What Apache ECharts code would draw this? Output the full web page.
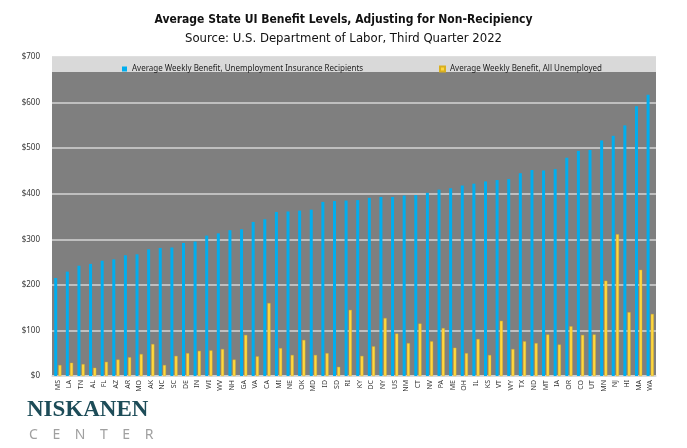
<!DOCTYPE html>
<html>
<head>
<meta charset="utf-8">
<script src="https://cdn.jsdelivr.net/npm/echarts@6/dist/echarts.min.js"></script>
<style>
  html, body { margin: 0; padding: 0; background: #fff; }
  #chart { width: 687px; height: 448px; }
</style>
</head>
<body>
<div id="chart"></div>
<script>
// states sorted by benefit for recipients
let states = ['MS', 'LA', 'TN', 'AL', 'FL', 'AZ', 'AR', 'MO', 'AK', 'NC', 'SC', 'DE', 'IN',
  'WI', 'WV', 'NH', 'GA', 'VA', 'CA', 'MI', 'NE', 'OK', 'MD', 'ID', 'SD', 'RI', 'KY', 'DC',
  'NY', 'US', 'NM', 'CT', 'NV', 'PA', 'ME', 'OH', 'IL', 'KS', 'VT', 'WY', 'TX', 'ND', 'MT',
  'IA', 'OR', 'CO', 'UT', 'MN', 'NJ', 'HI', 'MA', 'WA'];

let recipients = [215, 229, 242, 246, 253, 256, 265, 267, 278, 281, 282, 292, 295,
  308, 313, 320, 322, 338, 344, 360, 361, 363, 365, 382, 384, 385, 386, 391,
  393, 393, 396, 397, 402, 409, 412, 418, 422, 427, 430, 432, 445, 452, 451,
  454, 479, 494, 496, 517, 527, 550, 592, 617];

let allUnemployed = [24, 29, 26, 18, 31, 36, 41, 48, 70, 24, 44, 50, 55,
  56, 59, 36, 90, 43, 160, 61, 46, 79, 46, 50, 20, 145, 44, 65,
  127, 93, 72, 115, 76, 105, 62, 50, 81, 46, 121, 59, 76, 72, 91,
  69, 109, 90, 91, 209, 311, 140, 233, 136];

let yTicks = {min: 0, max: 700, step: 100};

let seriesNames = ['Average Weekly Benefit, Unemployment Insurance Recipients',
  'Average Weekly Benefit, All Unemployed'];

let narrow = "'DejaVu Sans Condensed', 'Liberation Sans Narrow', sans-serif";

let chart = echarts.init(document.getElementById('chart'));

let legendBase = {
  top: 60,
  itemWidth: 5,
  itemHeight: 5,
  icon: 'rect',
  textStyle: {fontSize: 8, color: '#222', fontFamily: 'Noto Sans'}
};

let option = {
  backgroundColor: '#fff',
  animation: false,
  title: [{
    text: 'Average State UI Benefit Levels, Adjusting for Non-Recipiency',
    left: 'center', top: 9,
    textStyle: {fontSize: 12, fontWeight: 'bold', color: '#111', fontFamily: narrow}
  }, {
    text: 'Source: U.S. Department of Labor, Third Quarter 2022',
    left: 'center', top: 27,
    textStyle: {fontSize: 13, fontWeight: 'normal', color: '#111', fontFamily: narrow}
  }],
  legend: [
    Object.assign({}, legendBase, {left: 117, data: [seriesNames[0]]}),
    Object.assign({}, legendBase, {left: 434, data: [seriesNames[1]]})
  ],
  grid: {
    left: 52, right: 31, top: 57, bottom: 72,
    show: true, backgroundColor: '#7f7f7f', borderWidth: 0
  },
  xAxis: {
    type: 'category',
    data: states,
    axisTick: {show: false},
    axisLine: {lineStyle: {color: '#d9d9d9', width: 1.5}},
    axisLabel: {rotate: 90, interval: 0, fontSize: 7, color: '#333', margin: 4, fontFamily: 'Noto Sans'}
  },
  yAxis: {
    type: 'value',
    min: yTicks.min, max: yTicks.max, interval: yTicks.step,
    axisLine: {show: false},
    axisTick: {show: false},
    axisLabel: {formatter: v => '$' + v, fontSize: 8, color: '#333', margin: 12, fontFamily: 'Noto Sans'},
    splitLine: {lineStyle: {color: '#d4d4d4', width: 1.5}}
  },
  graphic: [
    {type: 'rect', z: 2, shape: {x: 52, y: 57, width: 604, height: 15}, style: {fill: '#d9d9d9'}},
    {type: 'text', z: 2, left: 27, top: 399,
      style: {text: 'NISKANEN', fill: '#1d4c58', font: 'bold 23px "Liberation Serif", "DejaVu Serif", serif'}},
    {type: 'text', z: 2, left: 29, top: 428,
      style: {text: 'C    E    N    T    E    R', fill: '#a0a0a0', font: '14px "Noto Sans", sans-serif'}}
  ],
  series: [{
    name: seriesNames[0],
    type: 'bar',
    data: recipients,
    barWidth: 3,
    barGap: '40%',
    itemStyle: {color: '#00aeef'}
  }, {
    name: seriesNames[1],
    type: 'bar',
    data: allUnemployed,
    barWidth: 3,
    itemStyle: {color: '#ffd740', borderColor: '#d9b020', borderWidth: 0.4}
  }]
};

chart.setOption(option);
</script>
</body>
</html>
